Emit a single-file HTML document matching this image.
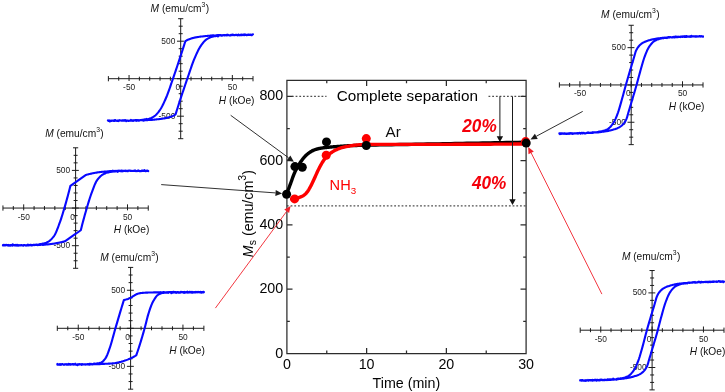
<!DOCTYPE html>
<html lang="en"><head><meta charset="utf-8"><title>Ms vs annealing time with M-H loops</title>
<style>html,body{margin:0;padding:0;background:#fff}body{width:725px;height:392px;overflow:hidden}svg{display:block;filter:blur(0.35px)}text{font-family:'Liberation Sans', Arial, Helvetica, sans-serif}</style>
</head><body>
<svg width="725" height="392" viewBox="0 0 725 392">
<rect width="725" height="392" fill="#fff"/>
<g id="loop1">
<path d="M108.39,78.7 H253.01 M180.7,18.7 V138.7 M108.39,76.1 V81.3 M118.72,76.7 V80.7 M129.05,75 V81 M139.38,76.7 V80.7 M149.71,76.7 V80.7 M160.04,76.7 V80.7 M170.37,76.7 V80.7 M180.7,75 V81 M191.03,76.7 V80.7 M201.36,76.7 V80.7 M211.69,76.7 V80.7 M222.02,76.7 V80.7 M232.35,75 V81 M242.68,76.7 V80.7 M253.01,76.1 V81.3 M178.1,138.7 H183.3 M178.7,131.2 H182.7 M178.7,123.7 H182.7 M177,116.2 H183.9 M178.7,108.7 H182.7 M178.7,101.2 H182.7 M178.7,93.7 H182.7 M178.7,86.2 H182.7 M177,78.7 H183.9 M178.7,71.2 H182.7 M178.7,63.7 H182.7 M178.7,56.2 H182.7 M178.7,48.7 H182.7 M177,41.2 H183.9 M178.7,33.7 H182.7 M178.7,26.2 H182.7 M178.1,18.7 H183.3" fill="none" stroke="#1c1c1c" stroke-width="1"/>
<g font-size="8.4" fill="#1c1c1c">
<text x="129.15" y="90.2" text-anchor="middle">-50</text>
<text x="177.8" y="90.2" text-anchor="middle">0</text>
<text x="232.45" y="90.2" text-anchor="middle">50</text>
<text x="175.3" y="43.7" text-anchor="end">500</text>
<text x="175.3" y="118.7" text-anchor="end">-500</text>
</g>
<g font-size="10.2" fill="#111">
<text x="150.6" y="12.1"><tspan font-style="italic">M</tspan> (emu/cm<tspan font-size="6.8" dy="-4.9">3</tspan><tspan dy="4.9" dx="0.3">)</tspan></text>
<text x="218.8" y="103.7"><tspan font-style="italic">H</tspan> (kOe)</text>
</g>
<path d="M253.01,34.32 L252.35,34.65 L251.7,34.73 L251.04,35.2 L250.38,34.83 L249.73,34.85 L249.07,34.79 L248.41,34.92 L247.75,34.79 L247.1,34.9 L246.44,35.1 L245.78,34.58 L245.13,34.59 L244.47,34.4 L243.81,34.8 L243.16,34.92 L242.5,34.96 L241.84,35.21 L241.19,34.61 L240.53,35.12 L239.87,35.15 L239.21,34.92 L238.56,34.52 L237.9,34.83 L237.24,35.15 L236.59,35.08 L235.93,34.77 L235.27,34.97 L234.62,35.12 L233.96,35 L233.3,34.78 L232.65,34.5 L231.99,35.28 L231.33,35.14 L230.68,35.2 L230.02,35.59 L229.36,35.25 L228.7,35.28 L228.05,34.78 L227.39,35.1 L226.73,35.47 L226.08,34.94 L225.42,35.19 L224.76,35.54 L224.11,35.28 L223.45,35.3 L222.79,35.38 L222.14,35.18 L221.48,35.75 L220.82,35.29 L220.16,35.01 L219.51,35.06 L218.85,35.02 L218.19,35.04 L217.54,34.99 L216.88,35.6 L216.22,35.21 L215.57,35.75 L214.91,35.54 L214.25,35.76 L213.6,35.34 L212.94,35.35 L212.28,35.57 L211.62,35.41 L210.97,35.67 L210.31,35.64 L209.65,35.69 L209,35.78 L208.34,35.79 L207.68,35.85 L207.03,35.92 L206.37,35.99 L205.71,36.06 L205.06,36.13 L204.4,36.2 L203.74,36.27 L203.09,36.35 L202.43,36.42 L201.77,36.5 L201.11,36.58 L200.46,36.66 L199.8,36.74 L199.14,36.83 L198.49,36.92 L197.83,37.02 L197.17,37.13 L196.52,37.24 L195.86,37.36 L195.2,37.5 L194.55,37.64 L193.89,37.79 L193.23,37.96 L192.57,38.13 L191.92,38.32 L191.26,38.51 L190.6,38.7 L189.95,38.92 L189.29,39.15 L188.63,39.4 L187.98,39.68 L187.32,40 L186.66,40.36 L186.01,40.77 L185.35,41.2 L185.35,41.2 L184.7,43.27 L184.04,45.32 L183.39,47.36 L182.74,49.39 L182.09,51.42 L181.44,53.43 L180.78,55.43 L180.13,57.42 L179.48,59.4 L178.83,61.37 L178.17,63.33 L177.52,65.28 L176.87,67.22 L176.22,69.15 L175.57,71.08 L174.91,72.99 L174.26,74.9 L173.61,76.8 L172.96,78.69 L172.3,80.59 L171.65,82.51 L171,84.44 L170.35,86.37 L169.7,88.27 L169.04,90.14 L168.39,91.96 L167.74,93.72 L167.09,95.4 L166.43,96.99 L165.78,98.5 L165.13,99.98 L164.48,101.43 L163.83,102.85 L163.17,104.22 L162.52,105.53 L161.87,106.77 L161.22,107.94 L160.57,109.02 L159.91,110.02 L159.26,110.92 L158.61,111.8 L157.96,112.64 L157.3,113.43 L156.65,114.17 L156,114.85 L155.35,115.45 L154.7,115.97 L154.04,116.41 L153.39,116.81 L152.74,117.2 L152.09,117.54 L151.43,117.94 L150.78,118.21 L150.13,118.5 L149.48,118.63 L148.83,119.03 L148.17,119.09 L147.52,119.26 L146.87,119.53 L146.22,118.94 L145.56,119.53 L144.91,119.91 L144.26,119.37 L143.61,120.02 L142.96,119.75 L142.3,119.7 L141.65,120.13 L141,120.15 L140.35,120.23 L139.7,120.19 L139.04,120.6 L138.39,120.55 L137.74,120.33 L137.09,120.08 L136.43,120.22 L135.78,119.98 L135.13,120.26 L134.48,120.57 L133.83,120.49 L133.17,120.96 L132.52,120.72 L131.87,120.74 L131.22,120.44 L130.56,120.36 L129.91,120.66 L129.26,120.68 L128.61,120.92 L127.96,120.59 L127.3,120.51 L126.65,120.47 L126,120.77 L125.35,120.12 L124.69,120.31 L124.04,120.63 L123.39,120.74 L122.74,120.7 L122.09,120.59 L121.43,120.64 L120.78,120.53 L120.13,120.46 L119.48,120.33 L118.83,120.38 L118.17,120.69 L117.52,120.58 L116.87,120.77 L116.22,120.82 L115.56,120.22 L114.91,120.79 L114.26,120.21 L113.61,120.77 L112.96,120.63 L112.3,120.43 L111.65,120.69 L111,120.6 L110.35,120.76 L109.69,120.81 L109.04,120.74 L108.39,120.86 M107.87,120.46 L108.53,120.89 L109.19,120.43 L109.84,121.49 L110.5,120.84 L111.16,120.7 L111.81,120.9 L112.47,120.57 L113.13,120.67 L113.79,120.88 L114.44,120.71 L115.1,120.13 L115.76,120.74 L116.41,120.72 L117.07,120.89 L117.73,120.75 L118.38,121.08 L119.04,120.81 L119.7,120.17 L120.35,120.49 L121.01,120.58 L121.67,120.46 L122.33,120.27 L122.98,120.57 L123.64,120.2 L124.3,120.43 L124.95,120.64 L125.61,120.26 L126.27,121.23 L126.92,120.79 L127.58,120.58 L128.24,120.85 L128.89,120.66 L129.55,120.76 L130.21,120.75 L130.87,119.93 L131.52,120.42 L132.18,120.57 L132.84,120.23 L133.49,120.59 L134.15,120.31 L134.81,120.42 L135.46,120.1 L136.12,120.82 L136.78,120.28 L137.43,120.41 L138.09,120.7 L138.75,120.15 L139.41,120.6 L140.06,119.98 L140.72,120.23 L141.38,120.16 L142.03,120.29 L142.69,120.07 L143.35,120.71 L144,120.22 L144.66,120.35 L145.32,120.14 L145.97,120.17 L146.63,120.04 L147.29,120.24 L147.94,119.83 L148.6,119.77 L149.26,120.04 L149.92,119.99 L150.57,119.93 L151.23,119.83 L151.89,119.77 L152.54,119.83 L153.2,119.75 L153.86,119.68 L154.51,119.61 L155.17,119.54 L155.83,119.47 L156.48,119.4 L157.14,119.33 L157.8,119.25 L158.46,119.18 L159.11,119.1 L159.77,119.02 L160.43,118.94 L161.08,118.86 L161.74,118.77 L162.4,118.68 L163.05,118.58 L163.71,118.47 L164.37,118.36 L165.02,118.24 L165.68,118.1 L166.34,117.96 L167,117.81 L167.65,117.64 L168.31,117.47 L168.97,117.28 L169.62,117.09 L170.28,116.9 L170.94,116.68 L171.59,116.45 L172.25,116.2 L172.91,115.92 L173.56,115.6 L174.22,115.24 L174.88,114.83 L175.53,114.4 L175.53,114.4 L176.19,112.33 L176.84,110.28 L177.49,108.24 L178.14,106.21 L178.8,104.18 L179.45,102.17 L180.1,100.17 L180.75,98.18 L181.4,96.2 L182.06,94.23 L182.71,92.27 L183.36,90.32 L184.01,88.38 L184.67,86.45 L185.32,84.52 L185.97,82.61 L186.62,80.7 L187.27,78.8 L187.93,76.91 L188.58,75.01 L189.23,73.09 L189.88,71.16 L190.54,69.23 L191.19,67.33 L191.84,65.46 L192.49,63.64 L193.14,61.88 L193.8,60.2 L194.45,58.61 L195.1,57.1 L195.75,55.62 L196.41,54.17 L197.06,52.75 L197.71,51.38 L198.36,50.07 L199.01,48.83 L199.67,47.66 L200.32,46.58 L200.97,45.58 L201.62,44.68 L202.27,43.8 L202.93,42.96 L203.58,42.17 L204.23,41.43 L204.88,40.75 L205.54,40.15 L206.19,39.63 L206.84,39.19 L207.49,38.79 L208.14,38.39 L208.8,38.07 L209.45,37.76 L210.1,37.45 L210.75,37.09 L211.41,37.04 L212.06,36.65 L212.71,36.65 L213.36,36.53 L214.01,36.33 L214.67,36.12 L215.32,36.2 L215.97,36.1 L216.62,35.92 L217.28,35.9 L217.93,36.4 L218.58,35.79 L219.23,35.6 L219.88,35.29 L220.54,35.01 L221.19,35.28 L221.84,35.37 L222.49,35.58 L223.14,35.28 L223.8,35.08 L224.45,34.93 L225.1,35.41 L225.75,35.12 L226.41,34.96 L227.06,34.69 L227.71,35.06 L228.36,35.24 L229.01,35.27 L229.67,35.18 L230.32,35.24 L230.97,34.87 L231.62,34.8 L232.28,34.88 L232.93,34.76 L233.58,35.14 L234.23,34.93 L234.88,35.11 L235.54,35 L236.19,34.7 L236.84,35 L237.49,35.43 L238.15,35.04 L238.8,35.14 L239.45,35.33 L240.1,35.15 L240.75,34.72 L241.41,34.54 L242.06,35.06 L242.71,34.7 L243.36,34.65 L244.02,35.21 L244.67,34.93 L245.32,34.93 L245.97,34.87 L246.62,35.3 L247.28,34.99 L247.93,34.65 L248.58,34.6 L249.23,34.46 L249.88,34.98 L250.54,34.45 L251.19,34.74 L251.84,35.23 L252.49,34.72" fill="none" stroke="#0808ff" stroke-width="2.1" stroke-linejoin="round" stroke-linecap="round"/>
</g>
<g id="loop2">
<path d="M2.94,208.05 H148.26 M75.6,147.81 V268.29 M2.94,205.45 V210.65 M13.32,206.05 V210.05 M23.7,204.35 V210.35 M34.08,206.05 V210.05 M44.46,206.05 V210.05 M54.84,206.05 V210.05 M65.22,206.05 V210.05 M75.6,204.35 V210.35 M85.98,206.05 V210.05 M96.36,206.05 V210.05 M106.74,206.05 V210.05 M117.12,206.05 V210.05 M127.5,204.35 V210.35 M137.88,206.05 V210.05 M148.26,205.45 V210.65 M73,268.29 H78.2 M73.6,260.76 H77.6 M73.6,253.23 H77.6 M71.9,245.7 H78.8 M73.6,238.17 H77.6 M73.6,230.64 H77.6 M73.6,223.11 H77.6 M73.6,215.58 H77.6 M71.9,208.05 H78.8 M73.6,200.52 H77.6 M73.6,192.99 H77.6 M73.6,185.46 H77.6 M73.6,177.93 H77.6 M71.9,170.4 H78.8 M73.6,162.87 H77.6 M73.6,155.34 H77.6 M73,147.81 H78.2" fill="none" stroke="#1c1c1c" stroke-width="1"/>
<g font-size="8.4" fill="#1c1c1c">
<text x="23.8" y="219.55" text-anchor="middle">-50</text>
<text x="72.7" y="219.55" text-anchor="middle">0</text>
<text x="127.6" y="219.55" text-anchor="middle">50</text>
<text x="70.2" y="172.9" text-anchor="end">500</text>
<text x="70.2" y="248.2" text-anchor="end">-500</text>
</g>
<g font-size="10.2" fill="#111">
<text x="45.2" y="137.2"><tspan font-style="italic">M</tspan> (emu/cm<tspan font-size="6.8" dy="-4.9">3</tspan><tspan dy="4.9" dx="0.3">)</tspan></text>
<text x="113.7" y="233"><tspan font-style="italic">H</tspan> (kOe)</text>
</g>
<path d="M148.26,171.09 L147.6,170.86 L146.95,171 L146.29,170.67 L145.64,170.89 L144.98,171.01 L144.33,170.7 L143.67,170.86 L143.02,171.01 L142.36,170.6 L141.7,171 L141.05,171.05 L140.39,171.02 L139.74,171.24 L139.08,171.01 L138.43,170.43 L137.77,171.09 L137.12,170.86 L136.46,171.13 L135.8,171.01 L135.15,170.49 L134.49,170.64 L133.84,171 L133.18,170.85 L132.53,171.05 L131.87,171.04 L131.21,171.07 L130.56,171.07 L129.9,170.77 L129.25,170.71 L128.59,170.73 L127.94,170.89 L127.28,171.18 L126.63,170.87 L125.97,171.08 L125.31,170.65 L124.66,170.73 L124,170.69 L123.35,170.96 L122.69,171.32 L122.04,170.67 L121.38,170.61 L120.73,171.28 L120.07,170.9 L119.41,170.66 L118.76,171.22 L118.1,170.55 L117.45,171.08 L116.79,171.27 L116.14,170.7 L115.48,170.97 L114.83,171.22 L114.17,170.87 L113.51,171.57 L112.86,170.69 L112.2,171.33 L111.55,171.11 L110.89,171.27 L110.24,171.14 L109.58,171.11 L108.93,171.41 L108.27,171.23 L107.61,171.41 L106.96,171.49 L106.3,171.49 L105.65,171.6 L104.99,171.62 L104.34,171.6 L103.68,171.7 L103.03,171.75 L102.37,171.82 L101.71,171.89 L101.06,171.96 L100.4,172.03 L99.75,172.11 L99.09,172.2 L98.44,172.29 L97.78,172.39 L97.12,172.49 L96.47,172.6 L95.81,172.71 L95.16,172.83 L94.5,172.95 L93.85,173.08 L93.19,173.21 L92.54,173.34 L91.88,173.49 L91.22,173.63 L90.57,173.78 L89.91,173.93 L89.26,174.09 L88.6,174.25 L87.95,174.41 L87.29,174.58 L86.64,174.75 L85.98,174.92 L85.98,174.92 L84.56,175.91 L83.15,176.9 L81.73,177.9 L80.32,178.89 L78.9,179.88 L77.49,180.87 L76.07,181.87 L74.66,182.86 L73.24,183.85 L71.83,184.84 L70.41,185.84 L70.41,185.84 L69.75,188.43 L69.1,190.99 L68.44,193.5 L67.79,195.96 L67.13,198.38 L66.48,200.76 L65.82,203.09 L65.17,205.38 L64.51,207.63 L63.86,209.84 L63.2,212.03 L62.55,214.19 L61.89,216.3 L61.24,218.35 L60.58,220.32 L59.93,222.2 L59.27,223.97 L58.62,225.74 L57.96,227.51 L57.31,229.23 L56.65,230.88 L56,232.42 L55.34,233.81 L54.69,235.03 L54.03,236.03 L53.38,236.88 L52.72,237.68 L52.07,238.43 L51.41,239.12 L50.76,239.77 L50.1,240.35 L49.45,240.88 L48.79,241.35 L48.14,241.74 L47.48,242.02 L46.83,242.4 L46.17,242.66 L45.52,242.88 L44.86,243.32 L44.21,243.36 L43.55,243.79 L42.9,243.61 L42.24,243.78 L41.59,244.06 L40.93,244.4 L40.28,244.03 L39.62,244.37 L38.97,244.48 L38.31,244.44 L37.66,245.06 L37,244.61 L36.35,244.53 L35.69,244.75 L35.04,244.85 L34.38,245.16 L33.73,244.82 L33.07,244.97 L32.42,245.06 L31.76,245.23 L31.11,244.91 L30.45,244.84 L29.8,245.06 L29.14,244.95 L28.49,244.86 L27.83,244.8 L27.18,245.14 L26.52,245.25 L25.87,245.31 L25.21,245.21 L24.56,245.09 L23.9,245 L23.25,245.34 L22.59,245.2 L21.94,245.48 L21.28,244.95 L20.63,245.35 L19.97,245.17 L19.32,245.44 L18.66,245.34 L18.01,245.44 L17.35,244.87 L16.7,245.2 L16.04,245.33 L15.39,245.52 L14.73,245.44 L14.08,245.16 L13.42,244.9 L12.77,245.65 L12.11,245.53 L11.46,245.35 L10.8,245.46 L10.15,245.71 L9.49,245.31 L8.84,245.14 L8.18,245.7 L7.53,245.27 L6.87,245.09 L6.22,245.09 L5.56,245.42 L4.91,244.77 L4.25,245.19 L3.6,245.52 L2.94,245.09 M2.94,245.37 L3.6,244.9 L4.25,245.43 L4.91,244.95 L5.56,245.29 L6.22,244.89 L6.87,244.99 L7.53,245.07 L8.18,245.17 L8.84,244.93 L9.5,245.63 L10.15,245.1 L10.81,245.11 L11.46,245.08 L12.12,245.02 L12.77,244.33 L13.43,245.2 L14.08,245.04 L14.74,245.2 L15.4,244.86 L16.05,245.73 L16.71,244.83 L17.36,245.41 L18.02,245.79 L18.67,245.51 L19.33,245.29 L19.99,245.2 L20.64,245.26 L21.3,245.05 L21.95,245.26 L22.61,245.26 L23.26,245.76 L23.92,245.13 L24.57,245 L25.23,245.35 L25.89,245.69 L26.54,245.56 L27.2,244.83 L27.85,245.37 L28.51,245.37 L29.16,245.4 L29.82,245.03 L30.47,245.32 L31.13,245.38 L31.79,245.52 L32.44,245.16 L33.1,244.88 L33.75,245.14 L34.41,244.88 L35.06,245.03 L35.72,245.02 L36.37,244.99 L37.03,245.01 L37.69,244.75 L38.34,244.86 L39,245.08 L39.65,244.91 L40.31,244.92 L40.96,244.79 L41.62,244.82 L42.27,244.75 L42.93,244.96 L43.59,244.68 L44.24,244.55 L44.9,244.75 L45.55,244.46 L46.21,244.5 L46.86,244.47 L47.52,244.45 L48.17,244.33 L48.83,244.28 L49.49,244.21 L50.14,244.14 L50.8,244.07 L51.45,243.99 L52.11,243.9 L52.76,243.81 L53.42,243.71 L54.08,243.61 L54.73,243.5 L55.39,243.39 L56.04,243.27 L56.7,243.15 L57.35,243.02 L58.01,242.89 L58.66,242.76 L59.32,242.61 L59.98,242.47 L60.63,242.32 L61.29,242.17 L61.94,242.01 L62.6,241.85 L63.25,241.69 L63.91,241.52 L64.56,241.35 L65.22,241.18 L65.22,241.18 L66.64,240.19 L68.05,239.2 L69.47,238.2 L70.88,237.21 L72.3,236.22 L73.71,235.23 L75.13,234.23 L76.54,233.24 L77.96,232.25 L79.37,231.26 L80.79,230.26 L80.79,230.26 L81.45,227.67 L82.1,225.11 L82.76,222.6 L83.41,220.14 L84.07,217.72 L84.72,215.34 L85.38,213.01 L86.03,210.72 L86.69,208.47 L87.34,206.26 L88,204.07 L88.65,201.91 L89.31,199.8 L89.96,197.75 L90.62,195.78 L91.27,193.9 L91.93,192.13 L92.58,190.36 L93.24,188.59 L93.89,186.87 L94.55,185.22 L95.2,183.68 L95.86,182.29 L96.51,181.07 L97.17,180.07 L97.82,179.22 L98.48,178.42 L99.13,177.67 L99.79,176.98 L100.44,176.33 L101.1,175.75 L101.75,175.22 L102.41,174.75 L103.06,174.35 L103.72,174.03 L104.37,173.67 L105.03,173.51 L105.68,173.07 L106.34,172.86 L106.99,172.61 L107.65,172.48 L108.3,172.43 L108.96,172.38 L109.61,171.72 L110.27,171.93 L110.92,171.85 L111.58,171.34 L112.23,171.74 L112.89,171.58 L113.54,171.51 L114.2,171.42 L114.85,171.58 L115.51,171.4 L116.16,170.91 L116.82,170.98 L117.47,171.84 L118.13,171.55 L118.78,170.96 L119.44,171.04 L120.09,171.07 L120.75,170.71 L121.4,171.37 L122.06,170.64 L122.71,170.89 L123.37,170.78 L124.02,170.85 L124.68,170.7 L125.33,170.95 L125.99,171.02 L126.64,170.69 L127.3,170.83 L127.95,171.17 L128.61,170.54 L129.26,170.56 L129.92,170.5 L130.57,170.83 L131.23,170.76 L131.88,170.93 L132.54,171.06 L133.19,170.81 L133.85,170.78 L134.5,170.98 L135.16,170.37 L135.81,171.2 L136.47,171 L137.12,170.96 L137.78,170.49 L138.43,170.86 L139.09,170.87 L139.74,171.01 L140.4,170.97 L141.05,171.1 L141.71,170.54 L142.36,170.64 L143.02,170.54 L143.67,170.94 L144.33,170.17 L144.98,171.02 L145.64,171.27 L146.29,170.85 L146.95,170.74 L147.6,170.59 L148.26,171.02" fill="none" stroke="#0808ff" stroke-width="2.1" stroke-linejoin="round" stroke-linecap="round"/>
</g>
<g id="loop3">
<path d="M57.31,328.3 H203.89 M130.6,267.42 V389.18 M57.31,325.7 V330.9 M67.78,326.3 V330.3 M78.25,324.6 V330.6 M88.72,326.3 V330.3 M99.19,326.3 V330.3 M109.66,326.3 V330.3 M120.13,326.3 V330.3 M130.6,324.6 V330.6 M141.07,326.3 V330.3 M151.54,326.3 V330.3 M162.01,326.3 V330.3 M172.48,326.3 V330.3 M182.95,324.6 V330.6 M193.42,326.3 V330.3 M203.89,325.7 V330.9 M128,389.18 H133.2 M128.6,381.57 H132.6 M128.6,373.96 H132.6 M126.9,366.35 H133.8 M128.6,358.74 H132.6 M128.6,351.13 H132.6 M128.6,343.52 H132.6 M128.6,335.91 H132.6 M126.9,328.3 H133.8 M128.6,320.69 H132.6 M128.6,313.08 H132.6 M128.6,305.47 H132.6 M128.6,297.86 H132.6 M126.9,290.25 H133.8 M128.6,282.64 H132.6 M128.6,275.03 H132.6 M128,267.42 H133.2" fill="none" stroke="#1c1c1c" stroke-width="1"/>
<g font-size="8.4" fill="#1c1c1c">
<text x="78.35" y="339.8" text-anchor="middle">-50</text>
<text x="127.7" y="339.8" text-anchor="middle">0</text>
<text x="183.05" y="339.8" text-anchor="middle">50</text>
<text x="125.2" y="292.75" text-anchor="end">500</text>
<text x="125.2" y="368.85" text-anchor="end">-500</text>
</g>
<g font-size="10.2" fill="#111">
<text x="100.2" y="260.5"><tspan font-style="italic">M</tspan> (emu/cm<tspan font-size="6.8" dy="-4.9">3</tspan><tspan dy="4.9" dx="0.3">)</tspan></text>
<text x="169.2" y="353.8"><tspan font-style="italic">H</tspan> (kOe)</text>
</g>
<path d="M203.89,292.08 L203.23,291.81 L202.57,292.44 L201.91,292.41 L201.25,292.64 L200.58,292.17 L199.92,292.02 L199.26,292.04 L198.6,292.03 L197.94,291.88 L197.28,292.2 L196.62,292 L195.96,292.46 L195.3,292.42 L194.63,292.17 L193.97,292.43 L193.31,292.09 L192.65,291.89 L191.99,292.13 L191.33,292.41 L190.67,292.41 L190.01,291.9 L189.35,292.42 L188.69,292.21 L188.02,292.29 L187.36,292.22 L186.7,291.96 L186.04,292.36 L185.38,292.57 L184.72,291.88 L184.06,292.17 L183.4,292.05 L182.74,292.23 L182.07,292.04 L181.41,291.92 L180.75,291.9 L180.09,292.3 L179.43,292.32 L178.77,292.14 L178.11,292.18 L177.45,292.1 L176.79,292.41 L176.12,292.8 L175.46,292.13 L174.8,292.05 L174.14,292.09 L173.48,291.84 L172.82,292.04 L172.16,292.35 L171.5,292.01 L170.84,292.28 L170.17,291.95 L169.51,292.21 L168.85,292.16 L168.19,292.21 L167.53,292.26 L166.87,292.59 L166.21,292.27 L165.55,292.69 L164.89,292.21 L164.23,292.14 L163.56,292.02 L162.9,292.25 L162.24,292.38 L161.58,292.45 L160.92,292.17 L160.26,292.4 L159.6,292.29 L158.94,292.39 L158.28,292.34 L157.61,292.35 L156.95,292.36 L156.29,292.37 L155.63,292.38 L154.97,292.39 L154.31,292.4 L153.65,292.41 L152.99,292.43 L152.33,292.44 L151.66,292.45 L151,292.47 L150.34,292.49 L149.68,292.51 L149.02,292.53 L148.36,292.55 L147.7,292.58 L147.04,292.61 L146.38,292.64 L145.71,292.67 L145.05,292.71 L144.39,292.75 L143.73,292.8 L143.07,292.84 L142.41,292.9 L141.75,292.97 L141.09,293.06 L140.43,293.16 L139.77,293.27 L139.1,293.4 L138.44,293.55 L137.78,293.71 L137.12,293.95 L136.46,294.27 L135.8,294.63 L135.14,295 L134.48,295.37 L133.82,295.78 L133.15,296.23 L132.49,296.68 L131.83,297.11 L131.17,297.5 L130.51,297.82 L129.85,298.11 L129.19,298.39 L128.53,298.65 L127.87,298.91 L127.2,299.14 L126.54,299.36 L125.88,299.56 L125.22,299.73 L124.56,299.87 L123.9,299.99 L123.9,299.99 L123.23,302.16 L122.57,304.33 L121.9,306.52 L121.24,308.72 L120.57,310.92 L119.9,313.14 L119.24,315.37 L118.57,317.6 L117.91,319.84 L117.24,322.1 L116.57,324.36 L115.91,326.63 L115.24,328.91 L114.58,331.26 L113.91,333.69 L113.24,336.15 L112.58,338.59 L111.91,340.99 L111.25,343.3 L110.58,345.48 L109.92,347.5 L109.25,349.44 L108.58,351.37 L107.92,353.2 L107.25,354.89 L106.59,356.36 L105.92,357.55 L105.25,358.54 L104.59,359.46 L103.92,360.29 L103.26,361.01 L102.59,361.61 L101.92,362.02 L101.26,362.34 L100.59,362.64 L99.93,362.88 L99.26,363.08 L98.6,363.23 L97.93,363.41 L97.26,363.42 L96.6,363.45 L95.93,363.67 L95.27,364.07 L94.6,363.52 L93.93,363.45 L93.27,364.05 L92.6,364.11 L91.94,364.54 L91.27,363.89 L90.6,364.36 L89.94,363.69 L89.27,364.77 L88.61,364.17 L87.94,364.05 L87.28,364.33 L86.61,364.44 L85.94,364.2 L85.28,364.4 L84.61,364.37 L83.95,364.3 L83.28,364.43 L82.61,364.36 L81.95,364.11 L81.28,364.4 L80.62,364.27 L79.95,364.5 L79.28,364.1 L78.62,364.64 L77.95,364.09 L77.29,365.07 L76.62,364.55 L75.95,364.72 L75.29,364.09 L74.62,364.27 L73.96,364.66 L73.29,364.48 L72.63,364.02 L71.96,364.36 L71.29,364.22 L70.63,364.72 L69.96,364.72 L69.3,364.22 L68.63,363.8 L67.96,364.5 L67.3,364.22 L66.63,364.6 L65.97,364.06 L65.3,364.48 L64.63,364.48 L63.97,364.83 L63.3,364.48 L62.64,364.33 L61.97,364.04 L61.31,364.66 L60.64,364.14 L59.97,364.46 L59.31,364.45 L58.64,364.61 L57.98,364.79 L57.31,364.68 M57.31,363.98 L57.97,364.67 L58.64,364.49 L59.3,364.11 L59.96,364.9 L60.63,364.27 L61.29,364.51 L61.95,364.34 L62.62,364.17 L63.28,364.42 L63.94,364.43 L64.61,364.2 L65.27,364.22 L65.93,364.55 L66.6,364.42 L67.26,364.7 L67.92,364.06 L68.59,364.66 L69.25,364.32 L69.91,363.94 L70.58,364.17 L71.24,364.43 L71.9,364.54 L72.57,364.51 L73.23,364.13 L73.89,364.27 L74.56,364.35 L75.22,363.71 L75.89,364.54 L76.55,364.46 L77.21,364.43 L77.88,364.28 L78.54,364.25 L79.2,364.39 L79.87,364.14 L80.53,364.19 L81.19,364.39 L81.86,364.91 L82.52,364.12 L83.18,364.54 L83.85,364.46 L84.51,364.34 L85.17,364.6 L85.84,364.49 L86.5,364.27 L87.16,364.36 L87.83,364.2 L88.49,364.47 L89.15,364.31 L89.82,364.5 L90.48,364.3 L91.14,364.15 L91.81,364.27 L92.47,364.55 L93.13,364.23 L93.8,364.13 L94.46,363.92 L95.12,364.14 L95.79,364.19 L96.45,364.29 L97.11,363.79 L97.78,364.19 L98.44,364.17 L99.1,364.04 L99.77,364.16 L100.43,363.91 L101.09,363.95 L101.76,363.92 L102.42,363.94 L103.08,363.9 L103.75,363.87 L104.41,363.85 L105.07,363.82 L105.74,363.79 L106.4,363.76 L107.06,363.73 L107.73,363.69 L108.39,363.66 L109.05,363.62 L109.72,363.58 L110.38,363.53 L111.04,363.49 L111.71,363.44 L112.37,363.39 L113.04,363.33 L113.7,363.27 L114.36,363.19 L115.03,363.1 L115.69,362.99 L116.35,362.86 L117.02,362.73 L117.68,362.59 L118.34,362.44 L119.01,362.28 L119.67,362.12 L120.33,361.96 L121,361.8 L121.66,361.62 L122.32,361.43 L122.99,361.23 L123.65,361.02 L124.31,360.81 L124.98,360.58 L125.64,360.36 L126.3,360.12 L126.97,359.87 L127.63,359.62 L128.29,359.36 L128.96,359.08 L129.62,358.8 L130.28,358.5 L130.95,358.2 L131.61,357.88 L132.27,357.55 L132.94,357.21 L133.6,356.85 L134.26,356.48 L134.93,356.11 L135.59,355.72 L136.25,355.32 L136.25,355.32 L136.92,353.44 L137.58,351.51 L138.24,349.52 L138.91,347.49 L139.57,345.41 L140.23,343.29 L140.9,341.12 L141.56,338.92 L142.22,336.68 L142.88,334.41 L143.55,332.11 L144.21,329.78 L144.87,327.41 L145.54,324.85 L146.2,322.16 L146.86,319.47 L147.53,316.91 L148.19,314.6 L148.85,312.48 L149.52,310.4 L150.18,308.41 L150.84,306.55 L151.51,304.85 L152.17,303.34 L152.83,302.05 L153.49,300.83 L154.16,299.67 L154.82,298.57 L155.48,297.56 L156.15,296.65 L156.81,295.87 L157.47,295.23 L158.14,294.73 L158.8,294.35 L159.46,293.93 L160.13,293.73 L160.79,293.46 L161.45,293.33 L162.11,293.1 L162.78,292.83 L163.44,293.02 L164.1,292.71 L164.77,292.7 L165.43,292.58 L166.09,292.71 L166.76,292.61 L167.42,292.1 L168.08,292.84 L168.75,292.32 L169.41,292.11 L170.07,292.34 L170.73,292.03 L171.4,293.14 L172.06,292.48 L172.72,292.68 L173.39,292.49 L174.05,292.41 L174.71,292.26 L175.38,292.58 L176.04,292.15 L176.7,292.75 L177.37,292.12 L178.03,292.41 L178.69,292.78 L179.36,292.78 L180.02,292.78 L180.68,292.58 L181.34,292.3 L182.01,292 L182.67,292.13 L183.33,292.64 L184,292.87 L184.66,292.38 L185.32,292.65 L185.99,292.35 L186.65,292.47 L187.31,291.67 L187.98,292.72 L188.64,292.22 L189.3,291.84 L189.96,292.39 L190.63,292.48 L191.29,291.87 L191.95,292.8 L192.62,292.7 L193.28,292.58 L193.94,292.18 L194.61,292.09 L195.27,292.3 L195.93,291.74 L196.6,292.32 L197.26,292.27 L197.92,292.34 L198.59,291.96 L199.25,292.26 L199.91,292.36 L200.57,291.85 L201.24,291.94 L201.9,292.01 L202.56,292.57 L203.23,292.52 L203.89,292.31" fill="none" stroke="#0808ff" stroke-width="2.1" stroke-linejoin="round" stroke-linecap="round"/>
</g>
<g id="loop4">
<path d="M559.38,84.95 H703.02 M631.2,25.27 V144.63 M559.38,82.35 V87.55 M569.64,82.95 V86.95 M579.9,81.25 V87.25 M590.16,82.95 V86.95 M600.42,82.95 V86.95 M610.68,82.95 V86.95 M620.94,82.95 V86.95 M631.2,81.25 V87.25 M641.46,82.95 V86.95 M651.72,82.95 V86.95 M661.98,82.95 V86.95 M672.24,82.95 V86.95 M682.5,81.25 V87.25 M692.76,82.95 V86.95 M703.02,82.35 V87.55 M628.6,144.63 H633.8 M629.2,137.17 H633.2 M629.2,129.71 H633.2 M627.5,122.25 H634.4 M629.2,114.79 H633.2 M629.2,107.33 H633.2 M629.2,99.87 H633.2 M629.2,92.41 H633.2 M627.5,84.95 H634.4 M629.2,77.49 H633.2 M629.2,70.03 H633.2 M629.2,62.57 H633.2 M629.2,55.11 H633.2 M627.5,47.65 H634.4 M629.2,40.19 H633.2 M629.2,32.73 H633.2 M628.6,25.27 H633.8" fill="none" stroke="#1c1c1c" stroke-width="1"/>
<g font-size="8.4" fill="#1c1c1c">
<text x="580" y="96.45" text-anchor="middle">-50</text>
<text x="628.3" y="96.45" text-anchor="middle">0</text>
<text x="682.6" y="96.45" text-anchor="middle">50</text>
<text x="625.8" y="50.15" text-anchor="end">500</text>
<text x="625.8" y="124.75" text-anchor="end">-500</text>
</g>
<g font-size="10.2" fill="#111">
<text x="601.1" y="18.1"><tspan font-style="italic">M</tspan> (emu/cm<tspan font-size="6.8" dy="-4.9">3</tspan><tspan dy="4.9" dx="0.3">)</tspan></text>
<text x="668.8" y="109.8"><tspan font-style="italic">H</tspan> (kOe)</text>
</g>
<path d="M703.02,36.4 L702.38,36.44 L701.73,36.39 L701.09,36.18 L700.44,36.58 L699.8,36.29 L699.16,36.45 L698.51,36.47 L697.87,36.43 L697.22,36.19 L696.58,36.31 L695.93,36.58 L695.29,36.32 L694.65,36.38 L694,36.32 L693.36,36.49 L692.71,36.2 L692.07,36.36 L691.43,36.74 L690.78,36.79 L690.14,36.83 L689.49,36.41 L688.85,36.69 L688.21,36.62 L687.56,36.57 L686.92,36.28 L686.27,36.06 L685.63,36.63 L684.98,36.14 L684.34,36.51 L683.7,36.36 L683.05,36.74 L682.41,36.99 L681.76,36.59 L681.12,36.42 L680.48,37.12 L679.83,36.78 L679.19,36.74 L678.54,36.67 L677.9,37.1 L677.25,37 L676.61,36.67 L675.97,36.49 L675.32,36.93 L674.68,36.75 L674.03,36.97 L673.39,36.95 L672.75,37.18 L672.1,37.17 L671.46,37.29 L670.81,37.17 L670.17,36.97 L669.53,37.23 L668.88,37.16 L668.24,37.51 L667.59,37.23 L666.95,38.11 L666.3,37.77 L665.66,37.6 L665.02,37.9 L664.37,37.56 L663.73,37.68 L663.08,37.88 L662.44,37.83 L661.8,38.05 L661.15,38.05 L660.51,38.08 L659.86,38.21 L659.22,38.18 L658.58,38.31 L657.93,38.39 L657.29,38.48 L656.64,38.58 L656,38.68 L655.35,38.79 L654.71,38.91 L654.07,39.04 L653.42,39.18 L652.78,39.32 L652.13,39.47 L651.49,39.63 L650.85,39.79 L650.2,39.97 L649.56,40.15 L648.91,40.33 L648.27,40.53 L647.63,40.73 L646.98,40.95 L646.34,41.19 L645.69,41.44 L645.05,41.71 L644.4,42.01 L643.76,42.32 L643.12,42.66 L642.47,43.03 L641.83,43.45 L641.18,43.93 L640.54,44.47 L639.9,45.08 L639.25,45.75 L638.61,46.48 L637.96,47.3 L637.32,48.26 L636.68,49.4 L636.03,50.74 L635.39,52.46 L634.74,54.78 L634.1,57.06 L633.45,59.23 L632.81,61.4 L632.17,63.55 L631.52,65.7 L630.88,67.86 L630.23,70.01 L629.59,72.17 L628.95,74.34 L628.3,76.52 L627.66,78.72 L627.01,80.94 L626.37,83.18 L625.72,85.45 L625.08,87.77 L624.44,90.16 L623.79,92.56 L623.15,94.95 L622.5,97.3 L621.86,99.58 L621.22,101.85 L620.57,104.13 L619.93,106.4 L619.28,108.59 L618.64,110.68 L618,112.61 L617.35,114.35 L616.71,116.01 L616.06,117.6 L615.42,119.09 L614.77,120.48 L614.13,121.72 L613.49,122.79 L612.84,123.72 L612.2,124.6 L611.55,125.44 L610.91,126.22 L610.27,126.93 L609.62,127.58 L608.98,128.16 L608.33,128.66 L607.69,129.06 L607.05,129.41 L606.4,129.72 L605.76,130.01 L605.11,130.28 L604.47,130.52 L603.82,130.75 L603.18,130.82 L602.54,131.12 L601.89,131.18 L601.25,131.24 L600.6,131.42 L599.96,131.59 L599.32,131.64 L598.67,131.64 L598.03,132.32 L597.38,131.93 L596.74,132.16 L596.1,132.3 L595.45,132.21 L594.81,132.26 L594.16,132.25 L593.52,132.57 L592.87,132.21 L592.23,133.04 L591.59,132.82 L590.94,132.93 L590.3,132.66 L589.65,132.85 L589.01,132.65 L588.37,133 L587.72,132.55 L587.08,132.72 L586.43,133.06 L585.79,133.38 L585.15,133.29 L584.5,133.41 L583.86,132.77 L583.21,132.92 L582.57,133.43 L581.92,132.7 L581.28,133.24 L580.64,133.73 L579.99,132.95 L579.35,132.92 L578.7,133.25 L578.06,133.48 L577.42,132.99 L576.77,133.42 L576.13,133.32 L575.48,133.23 L574.84,133.28 L574.19,133.48 L573.55,133.64 L572.91,133.22 L572.26,133.95 L571.62,133.35 L570.97,133.38 L570.33,133.34 L569.69,133.56 L569.04,133.43 L568.4,133.31 L567.75,133.76 L567.11,133.51 L566.47,133.44 L565.82,133.84 L565.18,133.78 L564.53,133.18 L563.89,133.32 L563.24,133.75 L562.6,133.4 L561.96,133.48 L561.31,133.25 L560.67,133.31 L560.02,134.17 L559.38,133.66 M559.38,133.26 L560.02,133.2 L560.67,133.73 L561.31,133.88 L561.96,133.52 L562.6,133.73 L563.24,133.57 L563.89,133.84 L564.53,133.37 L565.18,133.41 L565.82,133.43 L566.47,133.79 L567.11,133.92 L567.75,133.81 L568.4,133.37 L569.04,133.91 L569.69,133.31 L570.33,133.03 L570.97,133.59 L571.62,133.47 L572.26,133.18 L572.91,133.18 L573.55,133.53 L574.19,133.41 L574.84,133.32 L575.48,133.4 L576.13,133.18 L576.77,133.22 L577.42,132.97 L578.06,133.67 L578.7,132.96 L579.35,133.03 L579.99,133.24 L580.64,133.09 L581.28,132.94 L581.92,133.08 L582.57,133.19 L583.21,133.04 L583.86,133.25 L584.5,133.37 L585.15,133.24 L585.79,133.19 L586.43,132.93 L587.08,132.76 L587.72,132.86 L588.37,132.53 L589.01,132.87 L589.65,132.97 L590.3,132.95 L590.94,132.96 L591.59,132.78 L592.23,132.34 L592.87,132.98 L593.52,132.45 L594.16,132.54 L594.81,132.31 L595.45,132.55 L596.1,132.26 L596.74,132.45 L597.38,132.2 L598.03,132.54 L598.67,132.12 L599.32,132.03 L599.96,132.23 L600.6,131.91 L601.25,132 L601.89,131.78 L602.54,131.76 L603.18,131.66 L603.82,131.59 L604.47,131.51 L605.11,131.42 L605.76,131.32 L606.4,131.22 L607.05,131.11 L607.69,130.99 L608.33,130.86 L608.98,130.72 L609.62,130.58 L610.27,130.43 L610.91,130.27 L611.55,130.11 L612.2,129.93 L612.84,129.75 L613.49,129.57 L614.13,129.37 L614.77,129.17 L615.42,128.95 L616.06,128.71 L616.71,128.46 L617.35,128.19 L618,127.89 L618.64,127.58 L619.28,127.24 L619.93,126.87 L620.57,126.45 L621.22,125.97 L621.86,125.43 L622.5,124.82 L623.15,124.15 L623.79,123.42 L624.44,122.6 L625.08,121.64 L625.72,120.5 L626.37,119.16 L627.01,117.44 L627.66,115.12 L628.3,112.84 L628.95,110.67 L629.59,108.5 L630.23,106.35 L630.88,104.2 L631.52,102.04 L632.17,99.89 L632.81,97.73 L633.45,95.56 L634.1,93.38 L634.74,91.18 L635.39,88.96 L636.03,86.72 L636.68,84.45 L637.32,82.13 L637.96,79.74 L638.61,77.34 L639.25,74.95 L639.9,72.6 L640.54,70.32 L641.18,68.05 L641.83,65.77 L642.47,63.5 L643.12,61.31 L643.76,59.22 L644.4,57.29 L645.05,55.55 L645.69,53.89 L646.34,52.3 L646.98,50.81 L647.63,49.42 L648.27,48.18 L648.91,47.11 L649.56,46.18 L650.2,45.3 L650.85,44.46 L651.49,43.68 L652.13,42.97 L652.78,42.32 L653.42,41.74 L654.07,41.24 L654.71,40.84 L655.35,40.49 L656,40.18 L656.64,39.89 L657.29,39.62 L657.93,39.38 L658.58,39.18 L659.22,38.92 L659.86,38.81 L660.51,38.65 L661.15,38.51 L661.8,38.39 L662.44,38.13 L663.08,38.39 L663.73,37.99 L664.37,38.07 L665.02,37.96 L665.66,37.92 L666.3,37.65 L666.95,37.93 L667.59,37.72 L668.24,37.4 L668.88,37.61 L669.53,37.53 L670.17,37.27 L670.81,37.29 L671.46,37.35 L672.1,37.21 L672.75,37.39 L673.39,36.93 L674.03,37.35 L674.68,37.43 L675.32,36.91 L675.97,37.29 L676.61,37.17 L677.25,36.96 L677.9,36.7 L678.54,36.96 L679.19,36.92 L679.83,36.89 L680.48,36.67 L681.12,36.86 L681.76,36.66 L682.41,36.38 L683.05,36.74 L683.7,36.75 L684.34,36.87 L684.98,36.81 L685.63,36.91 L686.27,36.86 L686.92,36.72 L687.56,36.48 L688.21,36.43 L688.85,36.63 L689.49,36.44 L690.14,36.81 L690.78,35.99 L691.43,35.88 L692.07,36.48 L692.71,36.32 L693.36,36.41 L694,36.23 L694.65,36.56 L695.29,36.76 L695.93,36.19 L696.58,36.64 L697.22,36.28 L697.87,36.58 L698.51,36.54 L699.16,36.11 L699.8,35.96 L700.44,36.37 L701.09,36.43 L701.73,36.26 L702.38,36.46 L703.02,36.74" fill="none" stroke="#0808ff" stroke-width="2.1" stroke-linejoin="round" stroke-linecap="round"/>
</g>
<g id="loop5">
<path d="M580.21,330.2 H723.99 M652.1,270.52 V389.88 M580.21,327.6 V332.8 M590.48,328.2 V332.2 M600.75,326.5 V332.5 M611.02,328.2 V332.2 M621.29,328.2 V332.2 M631.56,328.2 V332.2 M641.83,328.2 V332.2 M652.1,326.5 V332.5 M662.37,328.2 V332.2 M672.64,328.2 V332.2 M682.91,328.2 V332.2 M693.18,328.2 V332.2 M703.45,326.5 V332.5 M713.72,328.2 V332.2 M723.99,327.6 V332.8 M649.5,389.88 H654.7 M650.1,382.42 H654.1 M650.1,374.96 H654.1 M648.4,367.5 H655.3 M650.1,360.04 H654.1 M650.1,352.58 H654.1 M650.1,345.12 H654.1 M650.1,337.66 H654.1 M648.4,330.2 H655.3 M650.1,322.74 H654.1 M650.1,315.28 H654.1 M650.1,307.82 H654.1 M650.1,300.36 H654.1 M648.4,292.9 H655.3 M650.1,285.44 H654.1 M650.1,277.98 H654.1 M649.5,270.52 H654.7" fill="none" stroke="#1c1c1c" stroke-width="1"/>
<g font-size="8.4" fill="#1c1c1c">
<text x="600.85" y="341.7" text-anchor="middle">-50</text>
<text x="649.2" y="341.7" text-anchor="middle">0</text>
<text x="703.55" y="341.7" text-anchor="middle">50</text>
<text x="646.7" y="295.4" text-anchor="end">500</text>
<text x="646.7" y="370" text-anchor="end">-500</text>
</g>
<g font-size="10.2" fill="#111">
<text x="621.9" y="259.9"><tspan font-style="italic">M</tspan> (emu/cm<tspan font-size="6.8" dy="-4.9">3</tspan><tspan dy="4.9" dx="0.3">)</tspan></text>
<text x="689.7" y="354.9"><tspan font-style="italic">H</tspan> (kOe)</text>
</g>
<path d="M723.99,281.66 L723.35,282.19 L722.7,281.55 L722.06,281.78 L721.41,281.62 L720.77,282.02 L720.12,281.85 L719.48,281.54 L718.83,281.36 L718.19,281.5 L717.54,281.61 L716.9,281.98 L716.25,281.59 L715.61,281.7 L714.96,281.82 L714.32,281.45 L713.67,281.96 L713.03,281.37 L712.38,281.95 L711.74,281.98 L711.09,281.85 L710.45,282.16 L709.81,281.97 L709.16,281.86 L708.52,282.3 L707.87,282.11 L707.23,282.26 L706.58,282.05 L705.94,281.69 L705.29,282.08 L704.65,282.04 L704,281.96 L703.36,282.29 L702.71,281.99 L702.07,282.19 L701.42,282.24 L700.78,282.52 L700.13,282.28 L699.49,281.91 L698.84,281.89 L698.2,282.28 L697.56,282.22 L696.91,282.36 L696.27,282.56 L695.62,282.75 L694.98,281.95 L694.33,282.62 L693.69,282.37 L693.04,282.09 L692.4,282.59 L691.75,282.57 L691.11,282.51 L690.46,282.69 L689.82,282.59 L689.17,282.77 L688.53,282.48 L687.88,282.67 L687.24,283.05 L686.59,283.11 L685.95,283.03 L685.3,283.07 L684.66,283.14 L684.02,282.98 L683.37,283.24 L682.73,283.27 L682.08,283.29 L681.44,283.5 L680.79,283.44 L680.15,283.52 L679.5,283.6 L678.86,283.72 L678.21,283.81 L677.57,283.91 L676.92,284.01 L676.28,284.13 L675.63,284.25 L674.99,284.38 L674.34,284.53 L673.7,284.68 L673.05,284.83 L672.41,285 L671.76,285.17 L671.12,285.35 L670.48,285.54 L669.83,285.73 L669.19,285.93 L668.54,286.14 L667.9,286.36 L667.25,286.59 L666.61,286.84 L665.96,287.11 L665.32,287.41 L664.67,287.72 L664.03,288.06 L663.38,288.43 L662.74,288.85 L662.09,289.34 L661.45,289.89 L660.8,290.51 L660.16,291.2 L659.51,291.95 L658.87,292.79 L658.23,293.78 L657.58,294.96 L656.94,296.35 L656.29,298.11 L655.65,300.46 L655,302.76 L654.36,304.95 L653.71,307.11 L653.07,309.26 L652.42,311.4 L651.78,313.53 L651.13,315.67 L650.49,317.82 L649.84,319.97 L649.2,322.15 L648.55,324.35 L647.91,326.58 L647.26,328.85 L646.62,331.16 L645.97,333.55 L645.33,336.03 L644.69,338.55 L644.04,341.06 L643.4,343.52 L642.75,345.88 L642.11,348.19 L641.46,350.5 L640.82,352.78 L640.17,354.99 L639.53,357.09 L638.88,359.04 L638.24,360.81 L637.59,362.5 L636.95,364.13 L636.3,365.67 L635.66,367.09 L635.01,368.36 L634.37,369.45 L633.72,370.4 L633.08,371.29 L632.44,372.14 L631.79,372.92 L631.15,373.65 L630.5,374.3 L629.86,374.89 L629.21,375.39 L628.57,375.81 L627.92,376.16 L627.28,376.48 L626.63,376.78 L625.99,377.06 L625.34,377.31 L624.7,377.53 L624.05,377.73 L623.41,378 L622.76,378.08 L622.12,378.24 L621.47,378.32 L620.83,378.39 L620.18,378.36 L619.54,378.68 L618.9,378.76 L618.25,378.48 L617.61,378.79 L616.96,378.85 L616.32,379.39 L615.67,379.45 L615.03,379.33 L614.38,379.3 L613.74,379.19 L613.09,378.71 L612.45,379.71 L611.8,379.56 L611.16,379.36 L610.51,379.49 L609.87,379.33 L609.22,379.71 L608.58,379.89 L607.93,379.22 L607.29,379.65 L606.64,380.08 L606,379.91 L605.36,379.87 L604.71,380.25 L604.07,379.73 L603.42,379.91 L602.78,380.06 L602.13,380.15 L601.49,379.62 L600.84,380.06 L600.2,380.24 L599.55,380.56 L598.91,380.35 L598.26,379.95 L597.62,379.77 L596.97,380.42 L596.33,380.65 L595.68,380.17 L595.04,380.21 L594.39,380.01 L593.75,380.4 L593.11,380.22 L592.46,380.7 L591.82,380.57 L591.17,380.42 L590.53,380.41 L589.88,380.19 L589.24,380.04 L588.59,380.68 L587.95,379.95 L587.3,380.54 L586.66,380.47 L586.01,380.11 L585.37,380.96 L584.72,380.74 L584.08,380.6 L583.43,380.38 L582.79,380.15 L582.14,380.15 L581.5,380.63 L580.85,380.23 L580.21,380.51 M580.21,380.06 L580.85,380.48 L581.5,380.16 L582.14,380.65 L582.79,380.22 L583.43,380.72 L584.08,380.37 L584.72,380.77 L585.37,380.41 L586.01,380.56 L586.66,380.59 L587.3,380.29 L587.95,380.15 L588.59,380.3 L589.24,380.24 L589.88,380.13 L590.53,380 L591.17,380.03 L591.82,380.17 L592.46,379.77 L593.11,380.36 L593.75,380.03 L594.39,380.48 L595.04,379.62 L595.68,380.23 L596.33,380.12 L596.97,379.81 L597.62,380.17 L598.26,380.31 L598.91,380.53 L599.55,380.14 L600.2,379.56 L600.84,380 L601.49,379.6 L602.13,379.8 L602.78,380.09 L603.42,380.29 L604.07,379.98 L604.71,379.76 L605.36,379.94 L606,379.82 L606.64,379.69 L607.29,379.89 L607.93,380.12 L608.58,379.82 L609.22,379.58 L609.87,379.88 L610.51,379.9 L611.16,379.85 L611.8,379.63 L612.45,379.57 L613.09,379.51 L613.74,379.76 L614.38,379.41 L615.03,379.53 L615.67,379.55 L616.32,379.68 L616.96,379.46 L617.61,379.3 L618.25,379.11 L618.9,379.02 L619.54,379.02 L620.18,378.93 L620.83,379.01 L621.47,378.75 L622.12,378.68 L622.76,378.63 L623.41,378.61 L624.05,378.51 L624.7,378.42 L625.34,378.33 L625.99,378.23 L626.63,378.14 L627.28,378.03 L627.92,377.92 L628.57,377.79 L629.21,377.66 L629.86,377.52 L630.5,377.37 L631.15,377.21 L631.79,377.04 L632.44,376.87 L633.08,376.69 L633.72,376.5 L634.37,376.31 L635.01,376.11 L635.66,375.9 L636.3,375.68 L636.95,375.45 L637.59,375.2 L638.24,374.93 L638.88,374.64 L639.53,374.32 L640.17,373.98 L640.82,373.61 L641.46,373.19 L642.11,372.7 L642.75,372.15 L643.4,371.53 L644.04,370.84 L644.69,370.09 L645.33,369.25 L645.97,368.26 L646.62,367.08 L647.26,365.69 L647.91,363.93 L648.55,361.58 L649.2,359.28 L649.84,357.09 L650.49,354.93 L651.13,352.78 L651.78,350.64 L652.42,348.51 L653.07,346.37 L653.71,344.22 L654.36,342.07 L655,339.89 L655.65,337.69 L656.29,335.46 L656.94,333.19 L657.58,330.89 L658.23,328.49 L658.87,326.01 L659.51,323.49 L660.16,320.98 L660.8,318.52 L661.45,316.16 L662.09,313.85 L662.74,311.54 L663.38,309.26 L664.03,307.05 L664.67,304.95 L665.32,303.01 L665.96,301.24 L666.61,299.54 L667.25,297.91 L667.9,296.38 L668.54,294.96 L669.19,293.68 L669.83,292.59 L670.48,291.64 L671.12,290.75 L671.76,289.9 L672.41,289.12 L673.05,288.39 L673.7,287.74 L674.34,287.16 L674.99,286.65 L675.63,286.24 L676.28,285.88 L676.92,285.56 L677.57,285.26 L678.21,284.98 L678.86,284.73 L679.5,284.5 L680.15,284.27 L680.79,284.16 L681.44,283.83 L682.08,283.79 L682.73,283.61 L683.37,283.69 L684.02,283.54 L684.66,283.46 L685.3,283.29 L685.95,283.55 L686.59,283.04 L687.24,283.38 L687.88,282.9 L688.53,282.68 L689.17,282.86 L689.82,282.83 L690.46,282.77 L691.11,282.73 L691.75,282.56 L692.4,282.36 L693.04,282.38 L693.69,282.12 L694.33,282.42 L694.98,282.52 L695.62,282.47 L696.27,282.61 L696.91,282.37 L697.56,282.38 L698.2,281.78 L698.84,282.05 L699.49,281.71 L700.13,282.57 L700.78,282.01 L701.42,281.81 L702.07,281.96 L702.71,282.12 L703.36,281.95 L704,281.95 L704.65,281.92 L705.29,281.87 L705.94,281.69 L706.58,281.85 L707.23,281.81 L707.87,281.86 L708.52,281.74 L709.16,282 L709.81,281.67 L710.45,281.87 L711.09,281.58 L711.74,281.9 L712.38,281.76 L713.03,281.78 L713.67,281.96 L714.32,281.46 L714.96,281.61 L715.61,281.68 L716.25,281.38 L716.9,281.74 L717.54,281.66 L718.19,281.38 L718.83,281.06 L719.48,281.61 L720.12,281.24 L720.77,281.58 L721.41,281.8 L722.06,281.49 L722.7,281.31 L723.35,281.56 L723.99,281.49" fill="none" stroke="#0808ff" stroke-width="2.1" stroke-linejoin="round" stroke-linecap="round"/>
</g>
<g id="main">
<g stroke="#505050" stroke-width="1.2" stroke-dasharray="1.8,1.9" fill="none">
<path d="M291.9,96.45 H326.5"/>
<path d="M488.5,96.45 H526.1"/>
<path d="M286.9,205.9 H526.1"/>
</g>
<path d="M286.9,80.38 H526.1 V353.5 H286.9 Z M286.9,353.5 v-5.6 M286.9,80.38 v5.6 M326.77,353.5 v-2.9 M326.77,80.38 v2.9 M366.63,353.5 v-5.6 M366.63,80.38 v5.6 M406.5,353.5 v-2.9 M406.5,80.38 v2.9 M446.37,353.5 v-5.6 M446.37,80.38 v5.6 M486.23,353.5 v-2.9 M486.23,80.38 v2.9 M526.1,353.5 v-5.6 M526.1,80.38 v5.6 M286.9,353.5 h5.6 M526.1,353.5 h-5.6 M286.9,321.37 h2.9 M526.1,321.37 h-2.9 M286.9,289.24 h5.6 M526.1,289.24 h-5.6 M286.9,257.11 h2.9 M526.1,257.11 h-2.9 M286.9,224.97 h5.6 M526.1,224.97 h-5.6 M286.9,192.84 h2.9 M526.1,192.84 h-2.9 M286.9,160.71 h5.6 M526.1,160.71 h-5.6 M286.9,128.58 h2.9 M526.1,128.58 h-2.9 M286.9,96.45 h5.6 M526.1,96.45 h-5.6" fill="none" stroke="#2c2c2c" stroke-width="1.25"/>
<g font-size="14.25" fill="#050505">
<text x="283.2" y="357.5" text-anchor="end">0</text>
<text x="283.2" y="293.24" text-anchor="end">200</text>
<text x="283.2" y="228.97" text-anchor="end">400</text>
<text x="283.2" y="164.71" text-anchor="end">600</text>
<text x="283.2" y="100.45" text-anchor="end">800</text>
<text x="286.9" y="368.9" text-anchor="middle">0</text>
<text x="366.63" y="368.9" text-anchor="middle">10</text>
<text x="446.37" y="368.9" text-anchor="middle">20</text>
<text x="526.1" y="368.9" text-anchor="middle">30</text>
<text x="406.4" y="388" text-anchor="middle">Time (min)</text>
<text transform="translate(252.6,257.2) rotate(-90)"><tspan font-style="italic">M</tspan><tspan font-size="10.5" dy="3.4">s</tspan><tspan dy="-3.4"> (emu/cm</tspan><tspan font-size="10.5" dy="-6.3">3</tspan><tspan dy="6.3">)</tspan></text>
</g>
<text x="336.8" y="100.6" font-size="15.3" fill="#000">Complete separation</text>
<path d="M286.6,194.2 L287.09,192.89 L287.59,191.57 L288.08,190.25 L288.57,188.92 L289.07,187.6 L289.56,186.27 L290.05,184.94 L290.55,183.61 L291.04,182.26 L291.53,180.87 L292.03,179.46 L292.52,178.05 L293.02,176.67 L293.51,175.35 L294,174.1 L294.5,172.96 L294.99,171.87 L295.48,170.84 L295.98,169.84 L296.47,168.89 L296.96,167.97 L297.46,167.08 L297.95,166.21 L298.44,165.38 L298.94,164.57 L299.43,163.79 L299.92,163.03 L300.42,162.3 L300.91,161.58 L301.4,160.89 L301.9,160.22 L302.39,159.55 L302.89,158.9 L303.38,158.27 L303.87,157.67 L304.37,157.09 L304.86,156.55 L305.35,156.04 L305.85,155.55 L306.34,155.08 L306.83,154.63 L307.33,154.2 L307.82,153.8 L308.31,153.41 L308.81,153.05 L309.3,152.7 L309.79,152.35 L310.29,152.02 L310.78,151.71 L311.27,151.41 L311.77,151.12 L312.26,150.86 L312.76,150.61 L313.25,150.39 L313.74,150.18 L314.24,149.97 L314.73,149.78 L315.22,149.59 L315.72,149.42 L316.21,149.26 L316.7,149.11 L317.2,148.98 L317.69,148.85 L318.18,148.74 L318.68,148.63 L319.17,148.53 L319.66,148.43 L320.16,148.34 L320.65,148.25 L321.14,148.17 L321.64,148.09 L322.13,148.01 L322.62,147.94 L323.12,147.87 L323.61,147.8 L324.11,147.74 L324.6,147.67 L325.09,147.61 L325.59,147.56 L326.08,147.5 L326.57,147.44 L327.07,147.39 L327.56,147.34 L328.05,147.29 L328.55,147.24 L329.04,147.19 L329.53,147.14 L330.03,147.1 L330.52,147.05 L331.01,147.01 L331.51,146.96 L332,146.92 L332.49,146.88 L332.99,146.84 L333.48,146.8 L333.98,146.76 L334.47,146.72 L334.96,146.69 L335.46,146.65 L335.95,146.61 L336.44,146.58 L336.94,146.54 L337.43,146.51 L337.92,146.47 L338.42,146.43 L338.91,146.4 L339.4,146.36 L339.9,146.33 L340.39,146.29 L340.88,146.25 L341.38,146.22 L341.87,146.18 L342.36,146.15 L342.86,146.11 L343.35,146.07 L343.84,146.04 L344.34,146 L344.83,145.97 L345.33,145.94 L345.82,145.9 L346.31,145.87 L346.81,145.84 L347.3,145.81 L347.79,145.79 L348.29,145.76 L348.78,145.74 L349.27,145.71 L349.77,145.69 L350.26,145.67 L350.75,145.65 L351.25,145.63 L351.74,145.62 L352.23,145.6 L352.73,145.58 L353.22,145.56 L353.71,145.54 L354.21,145.53 L354.7,145.51 L355.2,145.5 L355.69,145.48 L356.18,145.47 L356.68,145.45 L357.17,145.44 L357.66,145.42 L358.16,145.41 L358.65,145.4 L359.14,145.38 L359.64,145.37 L360.13,145.36 L360.62,145.34 L361.12,145.33 L361.61,145.32 L362.1,145.31 L362.6,145.29 L363.09,145.28 L363.58,145.27 L364.08,145.26 L364.57,145.25 L365.07,145.23 L365.56,145.22 L366.05,145.21 L366.55,145.2 L367.04,145.19 L367.53,145.18 L368.03,145.16 L368.52,145.15 L369.01,145.14 L369.51,145.13 L370,145.12 L372,145.08 L375.95,144.99 L379.9,144.91 L383.85,144.84 L387.79,144.77 L391.74,144.7 L395.69,144.63 L399.64,144.56 L403.59,144.5 L407.54,144.43 L411.49,144.36 L415.44,144.28 L419.38,144.21 L423.33,144.13 L427.28,144.06 L431.23,143.99 L435.18,143.91 L439.13,143.84 L443.08,143.76 L447.03,143.69 L450.97,143.61 L454.92,143.54 L458.87,143.47 L462.82,143.39 L466.77,143.32 L470.72,143.24 L474.67,143.17 L478.62,143.09 L482.56,143.02 L486.51,142.95 L490.46,142.87 L494.41,142.8 L498.36,142.72 L502.31,142.65 L506.26,142.57 L510.21,142.5 L514.15,142.42 L518.1,142.35 L522.05,142.27 L526,142.2" fill="none" stroke="#000" stroke-width="3.4" stroke-linecap="round" stroke-linejoin="round"/>
<path d="M291.5,198.9 L291.96,198.9 L292.43,198.9 L292.89,198.9 L293.36,198.9 L293.82,198.9 L294.29,198.9 L294.75,198.9 L295.22,198.86 L295.68,198.78 L296.14,198.66 L296.61,198.51 L297.07,198.34 L297.54,198.16 L298,197.96 L298.47,197.76 L298.93,197.57 L299.4,197.38 L299.86,197.2 L300.33,197.03 L300.79,196.85 L301.25,196.66 L301.72,196.46 L302.18,196.24 L302.65,196.01 L303.11,195.75 L303.58,195.46 L304.04,195.14 L304.51,194.77 L304.97,194.37 L305.43,193.94 L305.9,193.48 L306.36,192.99 L306.83,192.47 L307.29,191.89 L307.76,191.25 L308.22,190.55 L308.69,189.8 L309.15,189.01 L309.62,188.2 L310.08,187.37 L310.54,186.54 L311.01,185.67 L311.47,184.75 L311.94,183.8 L312.4,182.82 L312.87,181.82 L313.33,180.82 L313.8,179.82 L314.26,178.82 L314.72,177.79 L315.19,176.74 L315.65,175.68 L316.12,174.63 L316.58,173.59 L317.05,172.56 L317.51,171.58 L317.98,170.61 L318.44,169.64 L318.91,168.69 L319.37,167.75 L319.83,166.83 L320.3,165.95 L320.76,165.09 L321.23,164.28 L321.69,163.49 L322.16,162.72 L322.62,161.98 L323.09,161.25 L323.55,160.56 L324.01,159.89 L324.48,159.26 L324.94,158.65 L325.41,158.06 L325.87,157.49 L326.34,156.94 L326.8,156.41 L327.27,155.91 L327.73,155.44 L328.2,155 L328.66,154.6 L329.12,154.21 L329.59,153.85 L330.05,153.5 L330.52,153.17 L330.98,152.85 L331.45,152.53 L331.91,152.23 L332.38,151.93 L332.84,151.63 L333.3,151.35 L333.77,151.08 L334.23,150.81 L334.7,150.56 L335.16,150.32 L335.63,150.09 L336.09,149.86 L336.56,149.65 L337.02,149.43 L337.49,149.22 L337.95,149.02 L338.41,148.83 L338.88,148.64 L339.34,148.46 L339.81,148.29 L340.27,148.14 L340.74,147.99 L341.2,147.85 L341.67,147.72 L342.13,147.59 L342.59,147.46 L343.06,147.34 L343.52,147.22 L343.99,147.11 L344.45,147 L344.92,146.9 L345.38,146.8 L345.85,146.7 L346.31,146.6 L346.78,146.51 L347.24,146.42 L347.7,146.34 L348.17,146.25 L348.63,146.17 L349.1,146.08 L349.56,146 L350.03,145.92 L350.49,145.84 L350.96,145.76 L351.42,145.68 L351.88,145.61 L352.35,145.53 L352.81,145.46 L353.28,145.39 L353.74,145.33 L354.21,145.26 L354.67,145.2 L355.14,145.14 L355.6,145.09 L356.07,145.04 L356.53,144.99 L356.99,144.95 L357.46,144.91 L357.92,144.88 L358.39,144.84 L358.85,144.81 L359.32,144.77 L359.78,144.74 L360.25,144.7 L360.71,144.67 L361.17,144.64 L361.64,144.61 L362.1,144.58 L362.57,144.55 L363.03,144.53 L363.5,144.5 L363.96,144.48 L364.43,144.46 L364.89,144.44 L365.36,144.43 L365.82,144.42 L366.28,144.41 L366.75,144.4 L367.21,144.4 L367.68,144.4 L368.14,144.4 L368.61,144.4 L369.07,144.4 L369.54,144.4 L370,144.4 L372,144.4 L375.95,144.4 L379.9,144.4 L383.85,144.4 L387.79,144.4 L391.74,144.4 L395.69,144.4 L399.64,144.4 L403.59,144.4 L407.54,144.4 L411.49,144.4 L415.44,144.39 L419.38,144.39 L423.33,144.38 L427.28,144.38 L431.23,144.37 L435.18,144.36 L439.13,144.36 L443.08,144.35 L447.03,144.34 L450.97,144.33 L454.92,144.32 L458.87,144.3 L462.82,144.29 L466.77,144.28 L470.72,144.26 L474.67,144.25 L478.62,144.23 L482.56,144.22 L486.51,144.2 L490.46,144.18 L494.41,144.16 L498.36,144.15 L502.31,144.13 L506.26,144.11 L510.21,144.09 L514.15,144.07 L518.1,144.04 L522.05,144.02 L526,144" fill="none" stroke="#fe0000" stroke-width="3.4" stroke-linecap="round" stroke-linejoin="round"/>
<circle cx="294.6" cy="198.9" r="4.5" fill="#fe0000"/>
<circle cx="326.2" cy="155.3" r="4.5" fill="#fe0000"/>
<circle cx="366.3" cy="138.6" r="4.5" fill="#fe0000"/>
<circle cx="525.6" cy="141.6" r="4.5" fill="#fe0000"/>
<circle cx="286.6" cy="194.2" r="4.5" fill="#000"/>
<circle cx="294.9" cy="166.6" r="4.5" fill="#000"/>
<circle cx="302.3" cy="167.2" r="4.5" fill="#000"/>
<circle cx="326.5" cy="141.9" r="4.5" fill="#000"/>
<circle cx="366.3" cy="145.5" r="4.5" fill="#000"/>
<circle cx="526.2" cy="143.1" r="4.5" fill="#000"/>
<path d="M499.9,96.45 V138 M512.5,96.45 V201" stroke="#1a1a1a" stroke-width="1" fill="none"/>
<path d="M499.9,142.1 l-3.2,-5.8 h6.4 Z M512.5,205.0 l-3.2,-5.8 h6.4 Z" fill="#111"/>
<text x="385.6" y="136.6" font-size="15.2" fill="#0c0c0c">Ar</text>
<text x="329.6" y="190.3" font-size="14.6" fill="#fe0000">NH<tspan font-size="9.8" dy="3.4">3</tspan></text>
<g font-size="17.2" font-weight="bold" font-style="italic" fill="#f4000a">
<text transform="translate(462.3,132.2) scale(1,1.07)">20%</text>
<text transform="translate(472.0,188.7) scale(1,1.07)">40%</text>
</g>
</g>
<g id="arrows">
<path d="M230.7,115.3 L288.58,157.79" stroke="#1a1a1a" stroke-width="0.9" fill="none"/><path d="M293.9,161.7 L286.8,160.21 L290.36,155.38 Z" fill="#1a1a1a"/>
<path d="M161.2,184.6 L275.52,192.92" stroke="#1a1a1a" stroke-width="0.9" fill="none"/><path d="M282.1,193.4 L275.3,195.91 L275.74,189.93 Z" fill="#1a1a1a"/>
<path d="M582.7,111.4 L536.32,136.28" stroke="#1a1a1a" stroke-width="0.9" fill="none"/><path d="M530.5,139.4 L534.9,133.64 L537.73,138.92 Z" fill="#1a1a1a"/>
<path d="M215.4,308.1 L286.69,211.31" stroke="#f0202a" stroke-width="0.9" fill="none"/><path d="M290.6,206 L289.1,213.09 L284.27,209.54 Z" fill="#f0202a"/>
<path d="M601.9,294.1 L531.16,152.9" stroke="#f0202a" stroke-width="0.9" fill="none"/><path d="M528.2,147 L533.84,151.56 L528.47,154.24 Z" fill="#f0202a"/>
</g>
</svg>
</body></html>
